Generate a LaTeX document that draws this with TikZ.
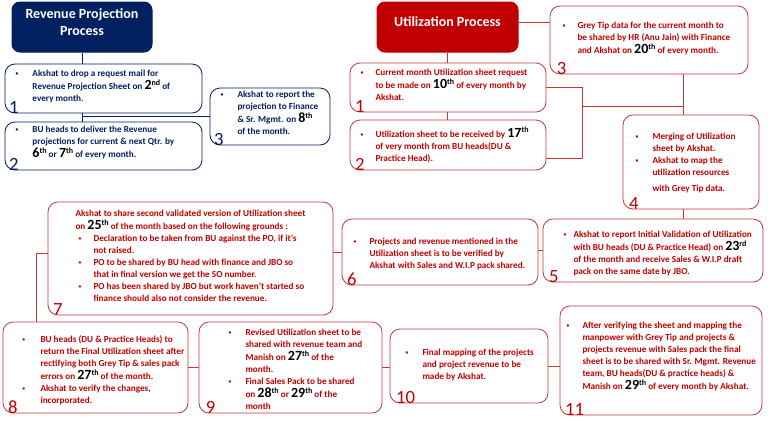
\documentclass[tikz,border=0pt]{standalone}
\usepackage{fontspec}
\setmainfont{Carlito}
\usetikzlibrary{fit}
\definecolor{revblue}{RGB}{0,32,96}
\definecolor{ured}{RGB}{192,0,0}
\definecolor{uedge}{RGB}{196,56,56}
\newcommand{\ord}[2]{{\fontsize{10.5}{10.5}\selectfont\color{black}#1}{\fontsize{6}{6}\selectfont\color{black}\raisebox{1.1ex}{#2}}}
\newcommand{\blt}{\raisebox{0.2ex}{\scalebox{0.6}{\textbullet}}}
\newenvironment{bullets}[1][12pt]{\begin{tabular}[t]{@{}p{#1}@{}l@{}}}{\end{tabular}}
\tikzset{every picture/.style={line width=0.75pt},
  revtitle/.style={draw=revblue,fill=revblue,rounded corners=6pt,inner sep=0pt,text=white,align=center,font=\fontsize{10.5}{13}\selectfont\bfseries},
  utitle/.style={draw=ured,fill=ured,rounded corners=6pt,inner sep=0pt,text=white,align=center,font=\fontsize{10.5}{13}\selectfont\bfseries},
  revbox/.style={draw=revblue,fill=white,rounded corners=7.5pt,inner sep=0pt,line width=0.6pt},
  ubox/.style={draw=uedge,fill=white,rounded corners=7.5pt,inner sep=0pt,line width=0.6pt},
  revtxt/.style={anchor=base west,inner sep=0pt,text=revblue,font=\fontsize{6.9}{9}\selectfont\bfseries},
  utxt/.style={anchor=base west,inner sep=0pt,text=ured,font=\fontsize{6.9}{9}\selectfont\bfseries},
  revno/.style={anchor=base west,inner sep=0pt,text=revblue,font=\fontsize{14}{14}\selectfont},
  uno/.style={anchor=base west,inner sep=0pt,text=ured,font=\fontsize{14}{14}\selectfont},
  revline/.style={draw=revblue,line width=0.75pt},
  uline/.style={draw=uedge,line width=0.75pt}
}
\begin{document}
\begin{tikzpicture}[x=0.75pt,y=0.75pt,yscale=-1,xscale=1]
\useasboundingbox (0,0) rectangle (768,433);

%Rounded Rect: revenue side
\node[revtitle,fit={(12,2) (152,52)}] (rt) {Revenue Projection\\Process};
\node[revbox,fit={(5,64) (202,113)}] (r1) {};
\node[revbox,fit={(5,122) (202,170)}] (r2) {};
\node[revbox,fit={(210,88) (330,145)}] (r3) {};

%Rounded Rect: utilization side
\node[utitle,fit={(377,2) (518,52)}] (ut) {Utilization Process};
\node[ubox,fit={(550,6) (748,74)}] (u3) {};
\node[ubox,fit={(350,63) (546,112)}] (u1) {};
\node[ubox,fit={(350,120) (546,170)}] (u2) {};
\node[ubox,fit={(623,115) (759,209)}] (u4) {};
\node[ubox,fit={(543,219) (763,282)}] (u5) {};
\node[ubox,fit={(342,219) (538,285)}] (u6) {};
\node[ubox,fit={(48,202) (333,315)}] (u7) {};
\node[ubox,fit={(3,322) (188,413)}] (u8) {};
\node[ubox,fit={(199,322) (382,413)}] (u9) {};
\node[ubox,fit={(390,329) (548,403)}] (u10) {};
\node[ubox,fit={(560,306) (762,415)}] (u11) {};

%Straight Lines: revenue side
\draw[revline] (rt.south) -- (rt.south |- r1.north);
\draw[revline] (rt.south |- r1.south) -- (rt.south |- r2.north);
\draw[revline] (r3.west) -- (r3.west -| rt.south);

%Straight Lines: utilization side
\coordinate (bus) at (582,106);
\coordinate (drop) at (683,106);
\coordinate (turn) at (36,253);
\draw[uline] (ut.south) -- (ut.south |- u1.north);
\draw[uline] (ut.south |- u1.south) -- (ut.south |- u2.north);
\draw[uline] ([yshift=-3.75pt]ut.east) -- ([yshift=-3.75pt]ut.east -| u3.west);
\draw[uline] (u1.east) -| (bus);
\draw[uline] ([yshift=9.75pt]u2.east) -| (bus);
\draw[uline] (bus) -- (drop);
\draw[uline] (drop |- u3.south) -- (drop |- u4.north);
\draw[uline] (drop |- u4.south) -- (drop |- u5.north);
\draw[uline] (u5.west) -- (u5.west -| u6.east);
\draw[uline] (u6.west) -- (u6.west -| u7.east);
\draw[uline] (u7.west |- turn) -- (turn) -- (turn |- u8.north);
\draw[uline] (u8.east) -- (u8.east -| u9.west);
\draw[uline] (u9.east) -- (u9.east -| u10.west);
\draw[uline] (u10.east) -- (u10.east -| u11.west);

% Text Node
\node[revtxt] (r1t) at (15,76) {\begin{bullets}[12.75pt]
\blt & Akshat to drop a request mail for\\
 & Revenue Projection Sheet on \ord{2}{nd} of\\
 & every month.
\end{bullets}};
% Text Node
\node[revtxt] (r2t) at (15,132) {\begin{bullets}[12.75pt]
\blt & BU heads to deliver the Revenue\\
 & projections for current \& next Qtr. by\\
 & \ord{6}{th} or \ord{7}{th} of every month.
\end{bullets}};
% Text Node
\node[revtxt] (r3t) at (220,97) {\begin{bullets}[12.75pt]
\blt & Akshat to report the\\
 & projection to Finance\\
 & \& Sr. Mgmt. on \ord{8}{th}\\
 & of the month.
\end{bullets}};
% Text Node
\node[utxt] (u3t) at (562,28) {\begin{bullets}[11.25pt]
\blt & Grey Tip data for the current month to\\
 & be shared by HR (Anu Jain) with Finance\\
 & and Akshat on \ord{20}{th} of every month.
\end{bullets}};
% Text Node
\node[utxt] (u1t) at (360,75) {\begin{bullets}[11.25pt]
\blt & Current month Utilization sheet request\\
 & to be made on \ord{10}{th} of every month by\\
 & Akshat.
\end{bullets}};
% Text Node
\node[utxt] (u2t) at (360,137) {\begin{bullets}[11.25pt]
\blt & Utilization sheet to be received by \ord{17}{th}\\
 & of very month from BU heads(DU \&\\
 & Practice Head).
\end{bullets}};
% Text Node
\node[utxt] (u4t) at (635,139) {\begin{bullets}[12.75pt]
\blt & Merging of Utilization\\
 & sheet by Akshat.\\
\blt & Akshat to map the\\
 & utilization resources\\[3pt]
 & with Grey Tip data.
\end{bullets}};
% Text Node
\node[utxt] (u5t) at (563,237) {\begin{bullets}[7.5pt]
\blt & Akshat to report Initial Validation of Utilization\\
 & with BU heads (DU \& Practice Head) on \ord{23}{rd}\\
 & of the month and receive Sales \& W.I.P draft\\
 & pack on the same date by JBO.
\end{bullets}};
% Text Node
\node[utxt] (u6t) at (353,244) {\begin{bullets}[12pt]
\blt & Projects and revenue mentioned in the\\
 & Utilization sheet is to be verified by\\
 & Akshat with Sales and W.I.P pack shared.
\end{bullets}};
% Text Node
\node[utxt] (u7t) at (75,216) {\begin{tabular}[t]{@{\hspace{2.25pt}}p{11.25pt}@{}l@{}}
\multicolumn{2}{@{}l@{}}{Akshat to share second validated version of Utilization sheet}\\
\multicolumn{2}{@{}l@{}}{on \ord{25}{th} of the month based on the following grounds :}\\
\blt & Declaration to be taken from BU against the PO, if it's\\
 & not raised.\\
\blt & PO to be shared by BU head with finance and JBO so\\
 & that in final version we get the SO number.\\
\blt & PO has been shared by JBO but work haven't started so\\
 & finance should also not consider the revenue.
\end{tabular}};
% Text Node
\node[utxt] (u8t) at (22,342) {\begin{bullets}[13.5pt]
\blt & BU heads (DU \& Practice Heads)  to\\
 & return the Final Utilization sheet after\\
 & rectifying both Grey Tip \& sales pack\\
 & errors on \ord{27}{th} of the month.\\
\blt & Akshat to verify the changes,\\
 & incorporated.
\end{bullets}};
% Text Node
\node[utxt] (u9t) at (228,335) {\begin{bullets}[12.75pt]
\blt & Revised Utilization sheet to be\\
 & shared with revenue team and\\
 & Manish on \ord{27}{th} of the\\
 & month.\\
\blt & Final Sales Pack to be shared\\
 & on \ord{28}{th} or \ord{29}{th} of the\\
 & month
\end{bullets}};
% Text Node
\node[utxt] (u10t) at (405,355) {\begin{bullets}[12.75pt]
\blt & Final mapping of the projects\\
 & and project revenue to be\\
 & made by Akshat.
\end{bullets}};
% Text Node
\node[utxt] (u11t) at (566,328) {\begin{bullets}[12pt]
\blt & After verifying the sheet and mapping the\\
 & manpower with Grey Tip and projects \&\\
 & projects revenue with Sales pack the final\\
 & sheet is to be shared with Sr. Mgmt. Revenue\\
 & team, BU heads(DU \& practice heads) \&\\
 & Manish on \ord{29}{th} of every month by Akshat.
\end{bullets}};

% Step numbers
\node[revno] (r1n) at ([xshift=3pt]r1.south west) {1};
\node[revno] (r2n) at ([xshift=3pt]r2.south west) {2};
\node[revno] (r3n) at ([xshift=3pt]r3.south west) {3};
\node[uno] (u1n) at ([xshift=3.75pt]u1.south west) {1};
\node[uno] (u2n) at ([xshift=3.75pt]u2.south west) {2};
\node[uno] (u3n) at ([xshift=5pt]u3.south west) {3};
\node[uno] (u4n) at ([xshift=4.5pt]u4.south west) {4};
\node[uno] (u5n) at ([xshift=4.5pt]u5.south west) {5};
\node[uno] (u6n) at ([xshift=3.75pt]u6.south west) {6};
\node[uno] (u7n) at ([xshift=3.75pt]u7.south west) {7};
\node[uno] (u8n) at ([xshift=3.75pt]u8.south west) {8};
\node[uno] (u9n) at ([xshift=5pt]u9.south west) {9};
\node[uno] (u10n) at ([xshift=4.5pt]u10.south west) {10};
\node[uno] (u11n) at ([xshift=3.75pt]u11.south west) {11};
\end{tikzpicture}
\end{document}
